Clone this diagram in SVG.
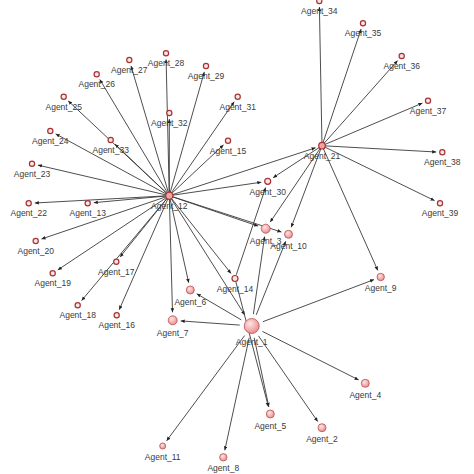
<svg xmlns="http://www.w3.org/2000/svg" width="474" height="474" viewBox="0 0 474 474">
<style>
.e{stroke:#3a3a3a;stroke-width:0.9;fill:none;marker-end:url(#a)}
.ring{fill:#f7e4e4;stroke:#a83232;stroke-width:1.2}
.hub{fill:#f2a4a4;stroke:#a83232;stroke-width:1.2}
.med{fill:url(#g);stroke:#b85050;stroke-width:0.8}
text{font-family:"Liberation Sans",Arial,sans-serif;font-size:8.5px;fill:#3a3a3a;text-anchor:middle}
</style>
<defs>
<radialGradient id="g" cx="0.4" cy="0.35" r="0.7">
<stop offset="0" stop-color="#fde6e6"/>
<stop offset="1" stop-color="#e98686"/>
</radialGradient>
<marker id="a" markerWidth="6" markerHeight="6" refX="4" refY="2" orient="auto" markerUnits="userSpaceOnUse">
<path d="M0,0.2 L4,2 L0,3.8 z" fill="#222"/>
</marker>
</defs>
<rect width="474" height="474" fill="#fff"/>
<g id="edges">
<line class="e" x1="169.3" y1="195.7" x2="131.0" y2="65.9"/>
<line class="e" x1="169.3" y1="195.7" x2="99.8" y2="79.5"/>
<line class="e" x1="169.3" y1="195.7" x2="68.2" y2="100.9"/>
<line class="e" x1="169.3" y1="195.7" x2="115.1" y2="144.2"/>
<line class="e" x1="169.3" y1="195.7" x2="55.7" y2="133.9"/>
<line class="e" x1="169.3" y1="195.7" x2="37.9" y2="165.1"/>
<line class="e" x1="169.3" y1="195.7" x2="34.8" y2="203.0"/>
<line class="e" x1="169.3" y1="195.7" x2="93.8" y2="202.7"/>
<line class="e" x1="169.3" y1="195.7" x2="41.5" y2="239.0"/>
<line class="e" x1="169.3" y1="195.7" x2="57.8" y2="269.9"/>
<line class="e" x1="169.3" y1="195.7" x2="120.1" y2="256.9"/>
<line class="e" x1="169.3" y1="195.7" x2="81.6" y2="300.6"/>
<line class="e" x1="169.3" y1="195.7" x2="119.2" y2="309.7"/>
<line class="e" x1="169.3" y1="195.7" x2="166.1" y2="59.4"/>
<line class="e" x1="169.3" y1="195.7" x2="169.3" y2="119.1"/>
<line class="e" x1="169.3" y1="195.7" x2="204.3" y2="71.9"/>
<line class="e" x1="169.3" y1="195.7" x2="234.2" y2="101.7"/>
<line class="e" x1="169.3" y1="195.7" x2="223.5" y2="144.9"/>
<line class="e" x1="169.3" y1="195.7" x2="261.3" y2="182.2"/>
<line class="e" x1="169.3" y1="195.7" x2="315.5" y2="147.8"/>
<line class="e" x1="169.3" y1="195.7" x2="258.1" y2="226.1"/>
<line class="e" x1="169.3" y1="195.7" x2="281.4" y2="232.0"/>
<line class="e" x1="169.3" y1="195.7" x2="231.0" y2="273.4"/>
<line class="e" x1="169.3" y1="195.7" x2="188.7" y2="282.7"/>
<line class="e" x1="169.3" y1="195.7" x2="172.5" y2="312.3"/>
<line class="e" x1="169.3" y1="195.7" x2="244.8" y2="315.0"/>
<line class="e" x1="322" y1="145.7" x2="319.4" y2="7.1"/>
<line class="e" x1="322" y1="145.7" x2="361.1" y2="29.1"/>
<line class="e" x1="322" y1="145.7" x2="397.6" y2="60.6"/>
<line class="e" x1="322" y1="145.7" x2="422.4" y2="103.1"/>
<line class="e" x1="322" y1="145.7" x2="436.2" y2="152.0"/>
<line class="e" x1="322" y1="145.7" x2="434.5" y2="200.6"/>
<line class="e" x1="322" y1="145.7" x2="377.8" y2="270.4"/>
<line class="e" x1="322" y1="145.7" x2="291.2" y2="227.3"/>
<line class="e" x1="322" y1="145.7" x2="270.2" y2="222.1"/>
<line class="e" x1="322" y1="145.7" x2="273.1" y2="177.7"/>
<line class="e" x1="253.4" y1="314.1" x2="264.6" y2="236.6"/>
<line class="e" x1="256.2" y1="314.9" x2="285.7" y2="241.3"/>
<line class="e" x1="262.9" y1="321.7" x2="374.0" y2="279.6"/>
<line class="e" x1="262.4" y1="331.4" x2="358.6" y2="379.9"/>
<line class="e" x1="258.5" y1="335.9" x2="317.7" y2="421.5"/>
<line class="e" x1="254.2" y1="337.7" x2="268.8" y2="406.7"/>
<line class="e" x1="249.2" y1="337.7" x2="224.8" y2="450.3"/>
<line class="e" x1="244.6" y1="335.6" x2="166.6" y2="440.8"/>
<line class="e" x1="239.7" y1="325.1" x2="180.7" y2="320.9"/>
<line class="e" x1="241.3" y1="319.9" x2="196.8" y2="293.8"/>
<line class="e" x1="236.3" y1="274.7" x2="265.6" y2="187.5"/>
<line class="e" x1="235.9" y1="281.9" x2="268.4" y2="406.7"/>
</g>
<g id="n1"><circle cx="251.7" cy="326" r="7.5" class="med"/><text x="251.7" y="345">Agent_1</text></g>
<g id="n2"><circle cx="322" cy="427.7" r="4" class="med"/><text x="322" y="442">Agent_2</text></g>
<g id="n3"><circle cx="265.7" cy="228.7" r="4.5" class="med"/><text x="265.7" y="243.5">Agent_3</text></g>
<g id="n4"><circle cx="365.3" cy="383.3" r="4" class="med"/><text x="365.3" y="397.5">Agent_4</text></g>
<g id="n5"><circle cx="270.3" cy="414" r="4" class="med"/><text x="270.3" y="428.5">Agent_5</text></g>
<g id="n6"><circle cx="190.3" cy="290" r="4" class="med"/><text x="190.3" y="304.5">Agent_6</text></g>
<g id="n7"><circle cx="172.7" cy="320.3" r="4.5" class="med"/><text x="172.7" y="335.5">Agent_7</text></g>
<g id="n8"><circle cx="223.3" cy="457.3" r="3.7" class="med"/><text x="223.3" y="471">Agent_8</text></g>
<g id="n9"><circle cx="380.7" cy="277" r="3.7" class="med"/><text x="380.7" y="290.5">Agent_9</text></g>
<g id="n10"><circle cx="288.5" cy="234.3" r="4" class="med"/><text x="288.5" y="249">Agent_10</text></g>
<g id="n11"><circle cx="162.7" cy="446" r="3" class="med"/><text x="162.7" y="459.5">Agent_11</text></g>
<g id="n12"><circle cx="169.3" cy="195.7" r="3.6" class="hub"/><text x="169.3" y="209">Agent_12</text></g>
<g id="n13"><circle cx="87.7" cy="203.3" r="2.6" class="ring"/><text x="87.7" y="216.3">Agent_13</text></g>
<g id="n14"><circle cx="235" cy="278.5" r="3" class="ring"/><text x="235" y="291.5">Agent_14</text></g>
<g id="n15"><circle cx="228" cy="140.7" r="2.6" class="ring"/><text x="228" y="153.7">Agent_15</text></g>
<g id="n16"><circle cx="116.7" cy="315.3" r="2.6" class="ring"/><text x="116.7" y="328.3">Agent_16</text></g>
<g id="n17"><circle cx="116.3" cy="261.7" r="2.6" class="ring"/><text x="116.3" y="274.7">Agent_17</text></g>
<g id="n18"><circle cx="77.7" cy="305.3" r="2.6" class="ring"/><text x="77.7" y="318.3">Agent_18</text></g>
<g id="n19"><circle cx="52.7" cy="273.3" r="2.6" class="ring"/><text x="52.7" y="286.3">Agent_19</text></g>
<g id="n20"><circle cx="35.7" cy="241" r="2.6" class="ring"/><text x="35.7" y="254">Agent_20</text></g>
<g id="n21"><circle cx="322" cy="145.7" r="3.3" class="hub"/><text x="322" y="159">Agent_21</text></g>
<g id="n22"><circle cx="28.7" cy="203.3" r="2.6" class="ring"/><text x="28.7" y="216.3">Agent_22</text></g>
<g id="n23"><circle cx="32" cy="163.7" r="2.6" class="ring"/><text x="32" y="176.7">Agent_23</text></g>
<g id="n24"><circle cx="50.3" cy="131" r="2.6" class="ring"/><text x="50.3" y="144">Agent_24</text></g>
<g id="n25"><circle cx="63.7" cy="96.7" r="2.6" class="ring"/><text x="63.7" y="109.7">Agent_25</text></g>
<g id="n26"><circle cx="96.7" cy="74.3" r="2.6" class="ring"/><text x="96.7" y="87.3">Agent_26</text></g>
<g id="n27"><circle cx="129.3" cy="60" r="2.6" class="ring"/><text x="129.3" y="73">Agent_27</text></g>
<g id="n28"><circle cx="166" cy="53.3" r="2.6" class="ring"/><text x="166" y="66.3">Agent_28</text></g>
<g id="n29"><circle cx="206" cy="66" r="2.6" class="ring"/><text x="206" y="79">Agent_29</text></g>
<g id="n30"><circle cx="267.7" cy="181.3" r="3" class="ring"/><text x="267.7" y="194.5">Agent_30</text></g>
<g id="n31"><circle cx="237.7" cy="96.7" r="2.6" class="ring"/><text x="237.7" y="109.7">Agent_31</text></g>
<g id="n32"><circle cx="169.3" cy="113" r="2.6" class="ring"/><text x="169.3" y="126">Agent_32</text></g>
<g id="n33"><circle cx="110.7" cy="140" r="2.6" class="ring"/><text x="110.7" y="153">Agent_33</text></g>
<g id="n34"><circle cx="319.3" cy="1" r="2.6" class="ring"/><text x="319.3" y="14">Agent_34</text></g>
<g id="n35"><circle cx="363" cy="23.3" r="2.6" class="ring"/><text x="363" y="36.3">Agent_35</text></g>
<g id="n36"><circle cx="401.7" cy="56" r="2.6" class="ring"/><text x="401.7" y="69">Agent_36</text></g>
<g id="n37"><circle cx="428" cy="100.7" r="2.6" class="ring"/><text x="428" y="113.7">Agent_37</text></g>
<g id="n38"><circle cx="442.3" cy="152.3" r="2.6" class="ring"/><text x="442.3" y="165.3">Agent_38</text></g>
<g id="n39"><circle cx="440" cy="203.3" r="2.6" class="ring"/><text x="440" y="216.3">Agent_39</text></g>
</svg>
